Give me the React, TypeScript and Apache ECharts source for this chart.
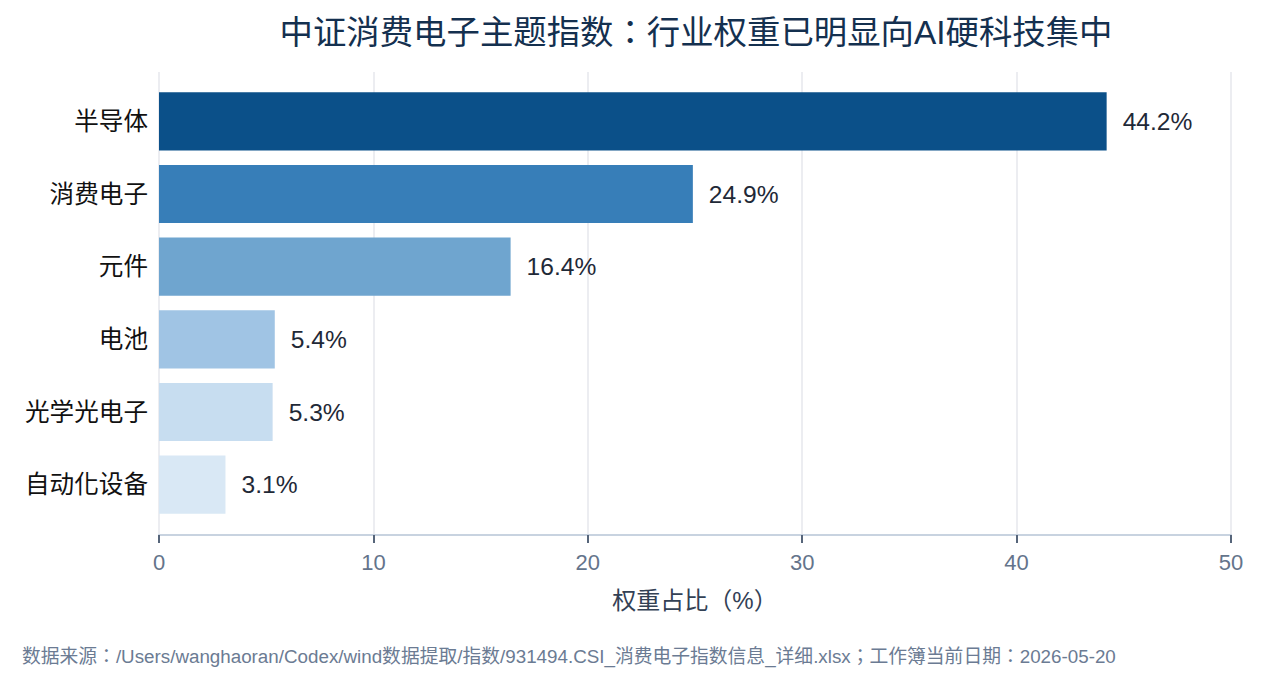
import { useEffect, useRef } from "react";
import * as echarts from "echarts";

const categories = ["半导体", "消费电子", "元件", "电池", "光学光电子", "自动化设备"];
const weights = [44.2, 24.9, 16.4, 5.4, 5.3, 3.1];
const barColors = ["#0b5089", "#377eb8", "#6fa5cf", "#a0c4e4", "#c7ddf0", "#d9e8f5"];
const xTicks = [0, 10, 20, 30, 40, 50];

const TITLE = "中证消费电子主题指数：行业权重已明显向AI硬科技集中";
const X_NAME = "权重占比（%）";
const FOOTER =
  "数据来源：/Users/wanghaoran/Codex/wind数据提取/指数/931494.CSI_消费电子指数信息_详细.xlsx；工作簿当前日期：2026-05-20";

const FONT = "'Liberation Sans', 'Noto Sans CJK TC', 'Noto Sans CJK SC', sans-serif";

export default function App() {
  const chartRef = useRef<HTMLDivElement>(null);

  useEffect(() => {
    if (!chartRef.current) return;
    const chart = echarts.init(chartRef.current, null, { renderer: "svg" });

    const xMin = xTicks[0];
    const xMax = xTicks[xTicks.length - 1];
    const step = xTicks[1] - xTicks[0];

    chart.setOption({
      animation: false,
      textStyle: { fontFamily: FONT },
      graphic: [
        {
          type: "text",
          x: 696,
          y: 32,
          style: {
            text: TITLE,
            fill: "#14304f",
            font: `33.4px ${FONT}`,
            textAlign: "center",
            textVerticalAlign: "middle",
          },
        },
        {
          type: "text",
          x: 22,
          y: 656,
          style: {
            text: FOOTER,
            fill: "#6b7b93",
            font: `18.8px ${FONT}`,
            textAlign: "left",
            textVerticalAlign: "middle",
          },
        },
      ],
      grid: [
        // axis / gridline frame (matplotlib-style margins)
        { left: 159, right: 33, top: 72, bottom: 151 },
        // bar area
        { left: 159, right: 33, top: 85, bottom: 165 },
      ],
      xAxis: [
        {
          gridIndex: 0,
          type: "value",
          min: xMin,
          max: xMax,
          interval: step,
          name: X_NAME,
          nameLocation: "middle",
          nameGap: 53,
          nameTextStyle: { fontSize: 24, color: "#334155", fontFamily: FONT },
          axisLine: { show: true, lineStyle: { color: "#c8d3e0", width: 2 } },
          axisTick: { show: true, length: 8, lineStyle: { color: "#56657a", width: 2 } },
          axisLabel: { fontSize: 22, color: "#64748b", margin: 16, fontFamily: FONT },
          splitLine: { show: true, lineStyle: { color: "#e6e7ec", width: 1.5 } },
        },
        {
          gridIndex: 1,
          type: "value",
          min: xMin,
          max: xMax,
          show: false,
          splitLine: { show: false },
        },
      ],
      yAxis: [
        {
          gridIndex: 0,
          type: "value",
          show: false,
          splitLine: { show: false },
        },
        {
          gridIndex: 1,
          type: "category",
          inverse: true,
          data: categories,
          axisLine: { show: false },
          axisTick: { show: false },
          axisLabel: { fontSize: 24.6, color: "#111111", margin: 11, fontFamily: FONT },
        },
      ],
      series: [
        {
          type: "bar",
          xAxisIndex: 1,
          yAxisIndex: 1,
          barCategoryGap: "20%",
          data: weights.map((v, i) => ({ value: v, itemStyle: { color: barColors[i] } })),
          label: {
            show: true,
            position: "right",
            distance: 16,
            formatter: (p: { value: number }) => `${p.value.toFixed(1)}%`,
            fontSize: 24.6,
            color: "#1f2937",
            fontFamily: FONT,
          },
        },
      ],
    });

    return () => {
      chart.dispose();
    };
  }, []);

  return (
    <div
      ref={chartRef}
      style={{ position: "absolute", left: 0, top: 0, width: 1264, height: 686, background: "#ffffff" }}
    />
  );
}
